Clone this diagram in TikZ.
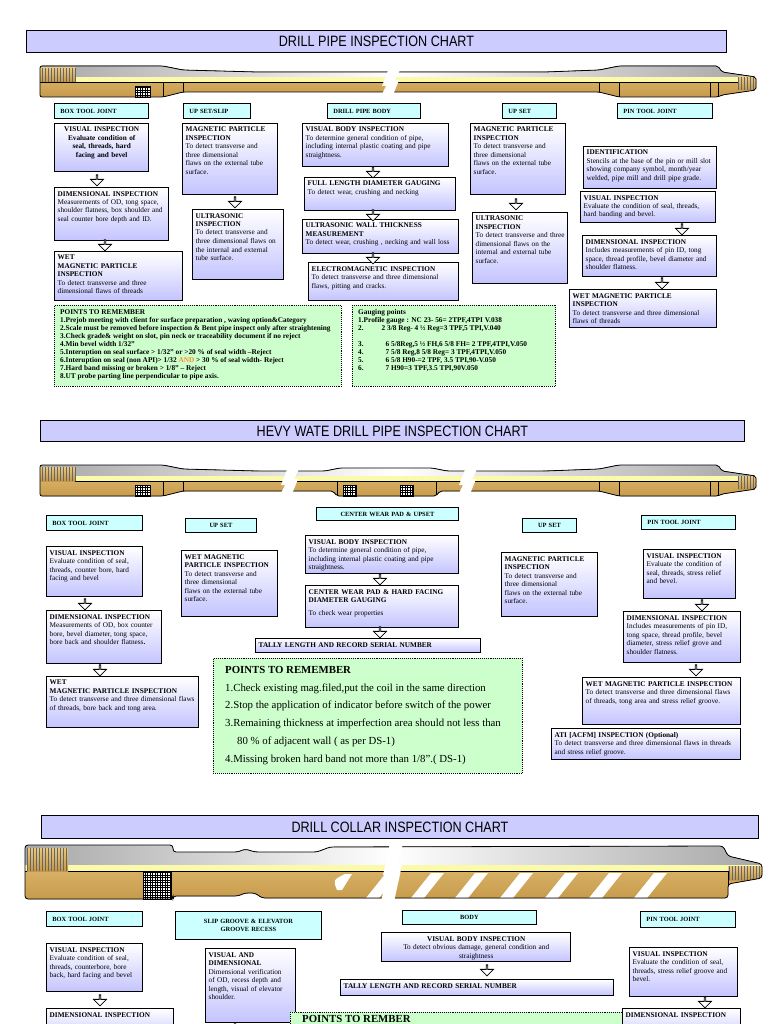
\documentclass[tikz,border=0pt]{standalone}
\usepackage{fontspec}
\setmainfont{Liberation Serif}
\newfontfamily\hdf{Liberation Sans}
\usetikzlibrary{shapes.arrows}
\hyphenpenalty=10000
\exhyphenpenalty=10000
\definecolor{lav}{RGB}{196,196,255}
\definecolor{ttl}{RGB}{204,204,255}
\definecolor{cyanL}{RGB}{204,255,255}
\definecolor{grn}{RGB}{204,255,204}
\definecolor{tan}{RGB}{196,150,70}
\definecolor{tanL}{RGB}{232,200,130}
\definecolor{yel}{RGB}{250,250,170}
\definecolor{org}{RGB}{255,140,40}
\tikzset{
 box/.style={draw,line width=0.9pt,top color=white,bottom color=lav,inner sep=0pt,anchor=north west},
 hdr/.style={draw,line width=0.9pt,fill=cyanL,inner sep=0pt,anchor=north west,font=\fontsize{6.4}{7.6}\selectfont\bfseries},
 txt/.style={inner sep=0pt,anchor=north west,font=\fontsize{7.25}{8.5}\selectfont,align=left},
 ttlbar/.style={draw,line width=0.9pt,fill=ttl,inner sep=0pt,anchor=north west,font=\hdf\fontsize{15}{16}\selectfont},
 note/.style={draw,densely dotted,line width=0.9pt,fill=grn,inner sep=0pt,anchor=north west},
 da/.style={single arrow,draw,fill=white,line width=0.8pt,minimum height=11pt,minimum width=13pt,single arrow head extend=3pt,inner sep=0pt,shape border rotate=270},
 tanfill/.style={top color=tanL,bottom color=tan},
 grayfill/.style={left color=gray!70,right color=gray!70,middle color=white},
}
\newcommand\bx[7][left]{%
 \pgfmathsetmacro\bw{#5-#3}\pgfmathsetmacro\bh{#6-#4}\pgfmathsetmacro\tw{#5-#3-6}%
 \node[box,minimum width=\bw pt,minimum height=\bh pt] (#2) at (#3,#4) {};
 \node[txt,text width=\tw pt,align=#1] (#2t) at ([xshift=3.5pt,yshift=-4pt]#2.north west) {#7};}
\newcommand\hb[7][left]{%
 \pgfmathsetmacro\bw{#5-#3}\pgfmathsetmacro\bh{#6-#4}\pgfmathsetmacro\tw{#5-#3-12}%
 \node[hdr,minimum width=\bw pt,minimum height=\bh pt,text width=\tw pt,align=#1] (#2) at (#3,#4) {#7};}
\newcommand\tb[6]{%
 \pgfmathsetmacro\bw{#4-#2}\pgfmathsetmacro\bh{#5-#3}%
 \node[ttlbar,minimum width=\bw pt,minimum height=\bh pt] (#1) at (#2,#3) {\scalebox{0.84}[1]{#6}};}
\newcommand\hatch[4]{\fill[tanfill] (#1,#2) rectangle (#3,#4);
 \foreach \xx in {#1,...,#3}{\pgfmathparse{mod(\xx,3)==0}\ifnum\pgfmathresult>0 \draw[line width=0.3pt,black!60] (\xx,#2)--(\xx,#4);\fi}}
\newcommand\grid[4]{\fill[white] (#1,#2) rectangle (#3,#4);
 \draw[line width=0.3pt,step=2.5pt] (#1,#2) grid (#3,#4); \draw[line width=0.5pt] (#1,#2) rectangle (#3,#4);}
\begin{document}
\begin{tikzpicture}[x=1pt,y=-1pt]
\useasboundingbox (0,0) rectangle (768,1024);
\fill[white] (0,0) rectangle (768,1024);
%================ SECTION 1 =================
\tb{t1}{26}{30}{726}{52}{DRILL PIPE INSPECTION CHART}
\def\pipeA{(40,66) -- (163,66) -- (183,70) -- (257,72) -- (545,72) -- (599,70) -- (619,66) -- (718,66) -- (722,72) -- (756,77) -- (756,90) -- (722,95) -- (718,97) -- (619,97) -- (599,92) -- (183,92) -- (163,97) -- (40,97) -- cycle}
\begin{scope}
\clip[rounded corners=2pt] \pipeA;
\fill[tanfill] (30,60) rectangle (760,100);
\fill[grayfill] (30,60) rectangle (760,77);
\fill[yel] (30,77) rectangle (760,82);
\draw[line width=0.5pt] (30,82)--(760,82);
\hatch{40}{68}{75}{82}
\draw[line width=0.6pt] (163,82)--(163,97) (183,82)--(183,92) (599,82)--(599,92) (619,82)--(619,97) (710,82)--(710,97) (718,82)--(718,97);
\hatch{738}{77}{756}{90}
\end{scope}
\grid{135}{86}{150}{97}
\draw[line width=0.8pt,rounded corners=2pt] \pipeA;
\fill[white] (389,68)--(401,68)--(395,80)--(399,80)--(391,100)--(379,100)--(386,86)--(382,86)--cycle;
% headers
\hb{h11}{54}{103}{148}{118}{BOX TOOL JOINT}
\hb{h12}{183}{103}{250}{118}{UP SET/SLIP}
\hb{h13}{327}{103}{420}{118}{DRILL PIPE BODY}
\hb{h14}{502}{103}{556}{118}{UP SET}
\hb{h15}{617}{103}{712}{118}{PIN TOOL JOINT}
% col1
\bx[center]{b11}{54}{123}{148}{171}{\textbf{VISUAL INSPECTION}\\\textbf{Evaluate condition of seal, threads, hard facing and bevel}}
\bx{b12}{54}{187}{168}{240}{\textbf{DIMENSIONAL INSPECTION}\\Measurements of OD, tong space, shoulder flatness, box shoulder and seal counter bore depth and ID.}
\bx{b13}{54}{251}{182}{300}{\textbf{WET}\\\textbf{MAGNETIC PARTICLE}\\\textbf{INSPECTION}\\To detect transverse and three\\dimensional flaws of  threads}
\node[da] (a11) at (97,180) {};
\node[da] (a12) at (105,245) {};
% col2
\bx{b21}{182}{123}{277}{194}{\textbf{MAGNETIC PARTICLE}\\\textbf{INSPECTION}\\To detect transverse and\\three dimensional\\flaws on the external tube surface.}
\bx{b22}{192}{209}{283}{279}{\textbf{ULTRASONIC}\\\textbf{INSPECTION}\\To detect transverse and three dimensional flaws on the internal and external tube surface.}
\node[da] (a21) at (235,202) {};
% col3
\bx{b31}{302}{123}{448}{166}{\textbf{VISUAL BODY INSPECTION}\\To determine general condition of pipe,\\including internal plastic coating and pipe straightness.}
\bx{b32}{304}{177}{455}{210}{\textbf{FULL LENGTH DIAMETER GAUGING}\\To detect wear, crushing  and necking}
\bx{b33}{302}{219}{458}{253}{\textbf{ULTRASONIC WALL THICKNESS}\\\textbf{MEASUREMENT}\\To detect wear, crushing , necking and wall loss}
\bx{b34}{308}{262}{458}{300}{\textbf{ELECTROMAGNETIC INSPECTION}\\To detect transverse and three dimensional flaws, pitting  and cracks.}
\node[da] (a31) at (373,172) {};
\node[da] (a32) at (373,215) {};
\node[da] (a33) at (373,258) {};
% col4
\bx{b41}{470}{123}{565}{194}{\textbf{MAGNETIC PARTICLE}\\\textbf{INSPECTION}\\To detect transverse and\\three dimensional\\flaws on the external tube surface.}
\bx{b42}{472}{212}{567}{283}{\textbf{ULTRASONIC}\\\textbf{INSPECTION}\\To detect transverse and three dimensional flaws on the internal and external tube surface.}
\node[da] (a41) at (516,204) {};
% col5
\bx{b51}{583}{146}{716}{188}{\textbf{IDENTIFICATION}\\Stencils at the base of the pin or mill slot showing company symbol, month/year welded, pipe mill and drill pipe grade.}
\bx{b52}{580}{191}{715}{222}{\textbf{VISUAL INSPECTION}\\Evaluate the condition of seal, threads, hard banding and bevel.}
\bx{b53}{582}{235}{716}{276}{\textbf{DIMENSIONAL  INSPECTION}\\Includes measurements of pin ID, tong space, thread profile, bevel diameter and shoulder flatness.}
\bx{b54}{569}{289}{716}{327}{\textbf{WET MAGNETIC PARTICLE}\\\textbf{INSPECTION}\\To detect transverse and three dimensional flaws of threads}
\node[da] (a51) at (682,229) {};
\node[da] (a52) at (662,283) {};
% notes
\node[note,minimum width=287pt,minimum height=81pt] (n1) at (54,305) {};
\node[txt,font=\fontsize{7.3}{8.1}\selectfont\bfseries] (n1t) at ([xshift=6pt,yshift=-4pt]n1.north west) {POINTS TO REMEMBER\\
1.Prejob meeting with client for surface preparation , waving option\&Category\\
2.Scale must be removed before inspection \& Bent pipe inspect only after straightening\\
3.Check grade\& weight on slot, pin neck or traceability document if no reject\\
4.Min bevel width 1/32''\\
5.Interuption on seal surface > 1/32'' or  >20 \% of seal width --Reject\\
6.Interuption on seal (non API)> 1/32 {\color{org}AND} > 30 \% of seal width- Reject\\
7.Hard band missing or broken > 1/8'' -- Reject\\
8.UT probe parting line perpendicular to pipe axis.};
\node[note,minimum width=203pt,minimum height=81pt] (n2) at (352,305) {};
\node[txt,font=\fontsize{7.3}{8.1}\selectfont\bfseries] (n2t) at ([xshift=6pt,yshift=-4pt]n2.north west) {Gauging points\\
1.Profile gauge : NC 23- 56= 2TPF,4TPI V.038\\
2.\hspace{18pt}2 3/8 Reg- 4 ½ Reg=3 TPF,5 TPI,V.040\\[8.1pt]
3.\hspace{22pt}6 5/8Reg,5 ½ FH,6 5/8 FH= 2 TPF,4TPI,V.050\\
4.\hspace{22pt}7 5/8 Reg,8 5/8 Reg= 3 TPF,4TPI,V.050\\
5.\hspace{22pt}6 5/8 H90-=2 TPF, 3.5 TPI,90-V.050\\
6.\hspace{22pt}7 H90=3 TPF,3.5 TPI,90V.050};
%================ SECTION 2 =================
\tb{t2}{40}{420}{744}{441}{HEVY WATE DRILL PIPE INSPECTION CHART}
\def\pipeB{(40,465) -- (163,465) -- (183,469) -- (257,471) -- (325,471) -- (340,468) -- (432,468) -- (447,471) -- (545,471) -- (599,469) -- (619,465) -- (718,465) -- (722,471) -- (756,476) -- (756,489) -- (722,494) -- (718,496) -- (619,496) -- (599,491) -- (440,491) -- (436,496) -- (337,496) -- (333,491) -- (183,491) -- (163,496) -- (40,496) -- cycle}
\begin{scope}
\clip[rounded corners=2pt] \pipeB;
\fill[tanfill] (30,460) rectangle (760,500);
\fill[grayfill] (30,460) rectangle (760,476);
\fill[yel] (30,476) rectangle (760,481);
\draw[line width=0.5pt] (30,481)--(760,481);
\hatch{40}{467}{75}{481}
\draw[line width=0.6pt] (163,481)--(163,496) (183,481)--(183,491) (599,481)--(599,491) (619,481)--(619,496) (710,481)--(710,496) (718,481)--(718,496) (337,481)--(337,496) (436,481)--(436,496);
\hatch{738}{476}{756}{489}
\end{scope}
\grid{135}{485}{150}{496}
\grid{343}{485}{356}{496}
\grid{400}{485}{413}{496}
\draw[line width=0.8pt,rounded corners=2pt] \pipeB;
\fill[white] (288,467)--(300,467)--(294,479)--(298,479)--(290,499)--(278,499)--(285,485)--(281,485)--cycle;
\fill[white] (466,467)--(478,467)--(472,479)--(476,479)--(468,499)--(456,499)--(463,485)--(459,485)--cycle;
\hb{h21}{46}{515}{142}{530}{BOX TOOL JOINT}
\hb[center]{h22}{185}{518}{256}{532}{UP SET}
\hb[center]{h23}{316}{507}{458}{520}{CENTER WEAR PAD \& UPSET}
\hb[center]{h24}{522}{518}{576}{532}{UP SET}
\hb{h25}{641}{515}{735}{529}{PIN TOOL JOINT}
\bx{c11}{46}{546}{142}{596}{\textbf{VISUAL INSPECTION}\\Evaluate condition of seal, threads, counter bore, hard facing and bevel}
\bx{c12}{46}{610}{161}{663}{\textbf{DIMENSIONAL INSPECTION}\\Measurements of OD, box counter bore, bevel diameter, tong space, bore back and shoulder flatness\textbf{.}}
\bx{c13}{46}{676}{198}{727}{\textbf{WET}\\\textbf{MAGNETIC PARTICLE INSPECTION}\\To detect transverse and three dimensional flaws of  threads, bore back  and  tong area.}
\node[da] (d11) at (85,604) {};
\node[da] (d12) at (100,670) {};
\bx{c21}{181}{550}{277}{616}{\textbf{WET MAGNETIC}\\\textbf{PARTICLE INSPECTION}\\To detect transverse and\\three dimensional\\flaws on the external tube surface.}
\bx{c31}{305}{535}{458}{573}{\textbf{VISUAL BODY INSPECTION}\\To determine general condition of pipe,\\including internal plastic coating and pipe straightness.}
\bx{c32}{305}{585}{458}{627}{\textbf{CENTER WEAR PAD  \& HARD FACING}\\\textbf{DIAMETER GAUGING}\\[4pt]To check wear  properties}
\bx{c33}{255}{638}{480}{652}{\textbf{TALLY LENGTH AND RECORD SERIAL NUMBER}}
\node[da] (d31) at (380,579) {};
\node[da] (d32) at (380,632) {};
\bx{c41}{501}{552}{597}{616}{\textbf{MAGNETIC PARTICLE}\\\textbf{INSPECTION}\\To detect transverse and\\three dimensional\\flaws on the external tube surface.}
\bx{c51}{643}{549}{735}{598}{\textbf{VISUAL INSPECTION}\\Evaluate the condition of seal, threads, stress relief and bevel.}
\bx{c52}{623}{611}{740}{662}{\textbf{DIMENSIONAL  INSPECTION}\\Includes measurements of pin ID, tong space, thread profile, bevel diameter, stress relief grove and shoulder flatness.}
\bx{c53}{582}{677}{740}{724}{\textbf{WET MAGNETIC PARTICLE INSPECTION}\\To detect transverse and three dimensional flaws of threads, tong area and stress relief groove.}
\bx{c54}{551}{728}{740}{759}{\textbf{ATI [ACFM] INSPECTION (Optional)}\\To detect transverse and three dimensional flaws in threads and stress relief groove.}
\node[da] (d51) at (702,605) {};
\node[da] (d52) at (696,670) {};
\node[note,minimum width=309pt,minimum height=115pt] (n3) at (213,658) {};
\node[txt,font=\fontsize{10.8}{17.8}\selectfont] (n3t) at ([xshift=12pt,yshift=-8pt]n3.north west) {\textbf{POINTS TO REMEMBER}\\
1.Check existing mag.filed,put the coil in the same direction\\
2.Stop the application of indicator before switch of the power\\
3.Remaining thickness at imperfection area should not less than\\
\hspace{12pt}80 \% of adjacent wall ( as per DS-1)\\
4.Missing broken hard band not more than 1/8''.( DS-1)};
%================ SECTION 3 =================
\tb{t3}{41}{815}{758}{838}{DRILL COLLAR INSPECTION CHART}
\def\pipeC{(25,845) -- (173,845) -- (173,852) -- (238,852) -- (245,849) -- (255,852) -- (317,852) -- (330,847) -- (723,846) -- (728,856) -- (762,864) -- (762,878) -- (728,884) -- (728,898) -- (262,898) -- (255,893) -- (245,893) -- (238,896) -- (173,896) -- (173,899) -- (25,899) -- cycle}
\begin{scope}
\clip[rounded corners=3pt] \pipeC;
\fill[tanfill] (20,840) rectangle (765,905);
\fill[grayfill] (20,840) rectangle (765,865);
\fill[yel] (20,865) rectangle (765,871);
\draw[line width=0.5pt] (20,871)--(765,871);
\hatch{27}{848}{68}{871}
\hatch{728}{866}{762}{880}
\draw[line width=0.6pt] (728,871)--(728,898);
\foreach \sx in {366,411,455,500,545,589,634}{\fill[white] (\sx,898)--(\sx+13,898)--(\sx+33,873)--(\sx+20,873)--cycle;}
\fill[white] (337,890) .. controls (333,880) .. (345,874) -- (352,874) -- (342,890) -- cycle;
\end{scope}
\grid{143}{872}{171}{899}
\draw[line width=0.8pt,rounded corners=3pt] \pipeC;
\fill[white] (390,843)--(403,843)--(398,865)--(402,865)--(394,902)--(381,902)--(387,875)--(383,875)--cycle;
\hb{h31}{46}{911}{142}{926}{BOX TOOL JOINT}
\hb[center]{h32}{175}{911}{321}{939}{SLIP GROOVE  \& ELEVATOR\\GROOVE RECESS}
\hb[center]{h33}{402}{910}{536}{924}{BODY}
\hb{h34}{640}{911}{735}{927}{PIN TOOL JOINT}
\bx{e11}{46}{943}{142}{991}{\textbf{VISUAL INSPECTION}\\Evaluate condition of seal, threads, counterbore, bore back, hard facing and bevel}
\bx{e12}{46}{1008}{173}{1040}{\textbf{DIMENSIONAL INSPECTION}}
\node[da] (f11) at (100,1000) {};
\bx{e21}{205}{948}{295}{1022}{\textbf{VISUAL AND}\\\textbf{DIMENSIONAL}\\Dimensional verification of OD, recess depth and length, visual of elevator shoulder.}
\node[da] (f21) at (235,1029) {};
\bx[center]{e31}{381}{932}{570}{961}{\textbf{VISUAL BODY INSPECTION}\\To detect  obvious damage, general condition  and\\straightness}
\bx{e32}{340}{979}{613}{995}{\textbf{TALLY LENGTH AND RECORD SERIAL NUMBER}}
\node[da] (f31) at (487,970) {};
\node[note,minimum width=332pt,minimum height=30pt] (n4) at (290,1012) {};
\node[txt,font=\fontsize{10.8}{12}\selectfont\bfseries] (n4t) at ([xshift=12pt,yshift=-3pt]n4.north west) {POINTS TO REMBER};
\bx{e41}{629}{947}{737}{996}{\textbf{VISUAL INSPECTION}\\Evaluate the condition of seal, threads, stress relief  groove and bevel.}
\bx{e42}{622}{1008}{740}{1040}{\textbf{DIMENSIONAL  INSPECTION}}
\node[da] (f41) at (705,1002) {};
\end{tikzpicture}
\end{document}
